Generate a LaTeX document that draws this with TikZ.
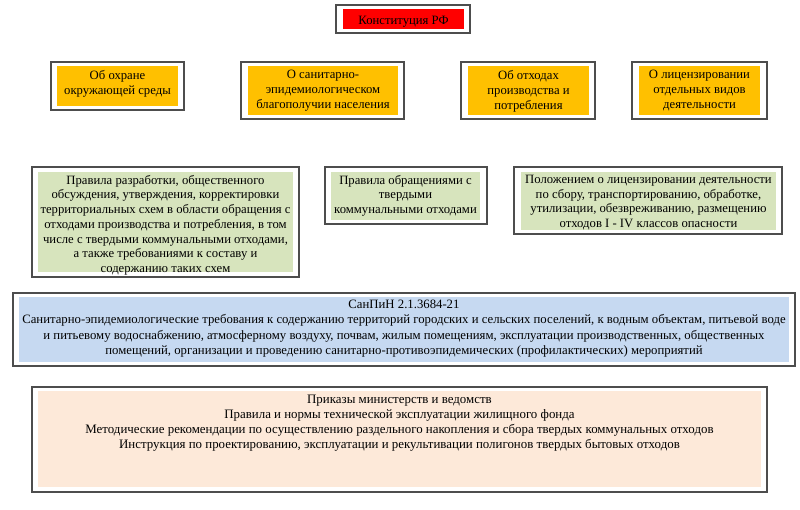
\documentclass[tikz,border=0pt]{standalone}
\usepackage{fontspec}
\setmainfont{Liberation Serif}
\definecolor{framegray}{HTML}{4D4D4D}
\definecolor{cred}{HTML}{FF0000}
\definecolor{corange}{HTML}{FFC000}
\definecolor{cgreen}{HTML}{D7E4BD}
\definecolor{cblue}{HTML}{C6D9F1}
\definecolor{cpeach}{HTML}{FDE9D9}
\begin{document}
\begin{tikzpicture}[x=1pt,y=-1pt,
  frame/.style={draw=framegray, line width=1.1pt},
  txt/.style={anchor=north, inner sep=0pt, align=center, font=\fontsize{12.7}{15}\selectfont}]
\useasboundingbox[fill=white] (0,0) rectangle (800,510);
% Constitution
\draw[frame] (336,5) rectangle (470,33);
\fill[cred] (343,9) rectangle (464,29);
\node[txt, anchor=center] (konst) at (403.5,21.5) {Конституция РФ};
% Federal laws
\draw[frame] (51,62) rectangle (184,110);
\fill[corange] (57,66) rectangle (178,106);
\node[txt] (ohrana) at (117.5,70) {Об охране\\окружающей среды};
\draw[frame] (241,62) rectangle (404,119);
\fill[corange] (248,66) rectangle (398,115);
\node[txt] (sanit) at (323,70) {О санитарно-\\эпидемиологическом\\благополучии населения};
\draw[frame] (461,62) rectangle (595,119);
\fill[corange] (468,66) rectangle (589,115);
\node[txt] (othody) at (528.5,70) {Об отходах\\производства и\\потребления};
\draw[frame] (632,62) rectangle (767,119);
\fill[corange] (639,66) rectangle (760,115);
\node[txt] (licenz) at (699.5,70) {О лицензировании\\отдельных видов\\деятельности};
% Government rules
\begin{scope}[txt/.append style={font=\fontsize{12.7}{14.7}\selectfont}]
\draw[frame] (32,167) rectangle (299,277);
\fill[cgreen] (38,172) rectangle (293,272);
\node[txt] (pravila) at (165.5,175) {Правила разработки, общественного\\обсуждения, утверждения, корректировки\\территориальных схем в области обращения с\\отходами производства и потребления, в том\\числе с твердыми коммунальными отходами,\\а также требованиями к составу и\\содержанию таких схем};
\draw[frame] (325,167) rectangle (487,224);
\fill[cgreen] (331,172) rectangle (480,220);
\node[txt] (tko) at (405.5,175) {Правила обращениями с\\твердыми\\коммунальными отходами};
\draw[frame] (514,167) rectangle (782,234);
\fill[cgreen] (521,172) rectangle (776,230);
\node[txt] (polozh) at (648.5,175) {Положением о лицензировании деятельности\\по сбору, транспортированию, обработке,\\утилизации, обезвреживанию, размещению\\отходов I - IV классов опасности};
\end{scope}
% SanPiN
\draw[frame] (13,293) rectangle (795,366);
\fill[cblue] (19,297) rectangle (789,362);
\node[txt, font=\fontsize{12.75}{15.3}\selectfont] (sanpin) at (404,300) {СанПиН 2.1.3684-21\\Санитарно-эпидемиологические требования к содержанию территорий городских и сельских поселений, к водным объектам, питьевой воде\\и питьевому водоснабжению, атмосферному воздуху, почвам, жилым помещениям, эксплуатации производственных, общественных\\помещений, организации и проведению санитарно-противоэпидемических (профилактических) мероприятий};
% Orders
\draw[frame] (32,387) rectangle (767,492);
\fill[cpeach] (38,391) rectangle (761,487);
\node[txt, font=\fontsize{12.9}{15}\selectfont] (prikazy) at (399.5,395) {Приказы министерств и ведомств\\Правила и нормы технической эксплуатации жилищного фонда\\Методические рекомендации по осуществлению раздельного накопления и сбора твердых коммунальных отходов\\Инструкция по проектированию, эксплуатации и рекультивации полигонов твердых бытовых отходов};
\end{tikzpicture}
\end{document}
